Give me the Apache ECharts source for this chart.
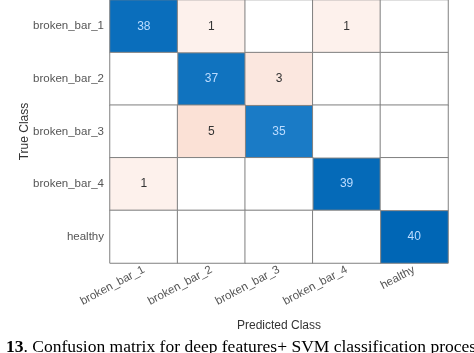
<!DOCTYPE html>
<html>
<head>
<meta charset="utf-8">
<script src="https://cdn.jsdelivr.net/npm/echarts@6/dist/echarts.min.js"></script>
<style>
  html, body { margin: 0; padding: 0; background: #fff; }
  #chart { width: 474px; height: 353px; }
</style>
</head>
<body>
<div id="chart"></div>
<script>
// class names (same for true / predicted)
var classes = ['broken_bar_1', 'broken_bar_2', 'broken_bar_3', 'broken_bar_4', 'healthy']

// confusion matrix, rows = true class, cols = predicted class
var row1 = [38, 1, 0, 1, 0]
var row2 = [0, 37, 3, 0, 0]
var row3 = [0, 5, 35, 0, 0]
var row4 = [1, 0, 0, 39, 0]
var row5 = [0, 0, 0, 0, 40]
var matrix = [row1, row2, row3, row4, row5]

var diagData = []
var offData = []
matrix.forEach(function (row, r) {
  row.forEach(function (v, c) {
    if (r === c) diagData.push([c, r, v])
    else offData.push([c, r, v])
  })
})

var cellLabel = function (color) {
  return {
    show: true,
    fontFamily: 'Arial, Liberation Sans',
    fontSize: 12,
    color: color,
    formatter: function (p) {
      return p.value[2] === 0 ? '' : p.value[2]
    }
  }
}

var myChart = echarts.init(document.getElementById('chart'))
var option = {
  animation: false,
  title: {
    text: '{b|13}. Confusion matrix for deep features+ SVM classification process',
    left: 1,
    top: 333,
    textStyle: {
      fontFamily: 'Liberation Serif, Times New Roman',
      fontSize: 17.5,
      fontWeight: 'normal',
      color: '#000',
      rich: {
        b: {
          fontFamily: 'Liberation Serif, Times New Roman',
          fontSize: 17.5,
          fontWeight: 'bold',
          color: '#000'
        }
      }
    }
  },
  grid: {
    left: 110,
    right: 26,
    top: 0,
    bottom: 90,
    containLabel: false,
    outerBoundsMode: 'none'
  },
  xAxis: {
    type: 'category',
    data: classes,
    name: 'Predicted Class',
    nameLocation: 'middle',
    nameGap: 57,
    nameMoveOverlap: false,
    nameTextStyle: {
      fontFamily: 'Arial, Liberation Sans',
      fontSize: 12,
      color: '#333'
    },
    axisLine: { show: false },
    axisTick: { show: false },
    axisLabel: {
      rotate: 28,
      interval: 0,
      margin: 6,
      fontFamily: 'Arial, Liberation Sans',
      fontSize: 11.5,
      color: '#555'
    },
    splitArea: { show: false }
  },
  yAxis: {
    type: 'category',
    data: classes,
    inverse: true,
    name: 'True Class',
    nameLocation: 'middle',
    nameGap: 79,
    nameMoveOverlap: false,
    nameTextStyle: {
      fontFamily: 'Arial, Liberation Sans',
      fontSize: 12,
      color: '#333'
    },
    axisLine: { show: false },
    axisTick: { show: false },
    axisLabel: {
      margin: 6,
      fontFamily: 'Arial, Liberation Sans',
      fontSize: 11.5,
      color: '#555'
    }
  },
  visualMap: [
    {
      show: false,
      seriesIndex: 0,
      dimension: 2,
      min: 35,
      max: 40,
      inRange: { color: ['#1a7bc6', '#0066b5'] }
    },
    {
      show: false,
      type: 'piecewise',
      seriesIndex: 1,
      dimension: 2,
      pieces: [
        { value: 0, color: '#ffffff' },
        { gt: 0, lte: 1, color: '#fdf1ec' },
        { gt: 1, lte: 3, color: '#fbe7df' },
        { gt: 3, color: '#fbe1d6' }
      ]
    }
  ],
  series: [
    {
      name: 'diag',
      type: 'heatmap',
      data: diagData,
      label: cellLabel('#bcdcff'),
      itemStyle: { borderColor: '#808080', borderWidth: 1 }
    },
    {
      name: 'off',
      type: 'heatmap',
      data: offData,
      label: cellLabel('#333'),
      itemStyle: { borderColor: '#808080', borderWidth: 1 }
    }
  ]
}
myChart.setOption(option)
</script>
</body>
</html>
